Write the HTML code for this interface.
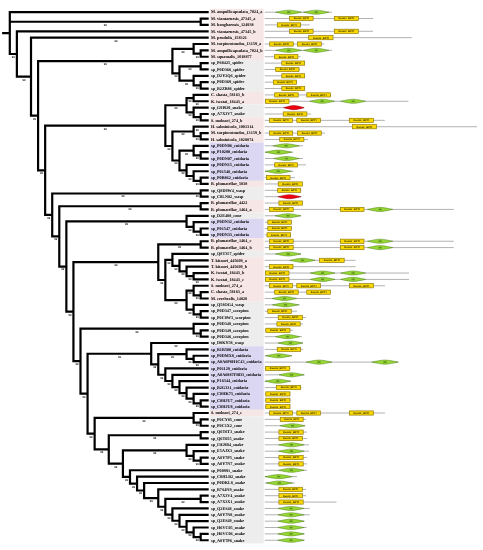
<!DOCTYPE html>
<html><head><meta charset="utf-8"><style>
html,body{margin:0;padding:0;background:#fff;width:483px;height:550px;overflow:hidden;}
svg{display:block;will-change:transform;} text{text-rendering:geometricPrecision;}
</style></head><body>
<svg width="483" height="550" viewBox="0 0 483 550">
<rect x="0" y="0" width="483" height="550" fill="#ffffff"/>
<rect x="209.8" y="9.02" width="53.9" height="50.90" fill="#f7e6e6"/>
<rect x="209.8" y="59.92" width="53.9" height="31.81" fill="#ededed"/>
<rect x="209.8" y="91.73" width="53.9" height="12.72" fill="#f7e6e6"/>
<rect x="209.8" y="104.45" width="53.9" height="12.72" fill="#ededed"/>
<rect x="209.8" y="117.17" width="53.9" height="25.45" fill="#f7e6e6"/>
<rect x="209.8" y="142.62" width="53.9" height="38.17" fill="#dbd7f2"/>
<rect x="209.8" y="180.79" width="53.9" height="6.36" fill="#f7e6e6"/>
<rect x="209.8" y="187.15" width="53.9" height="12.72" fill="#ededed"/>
<rect x="209.8" y="199.88" width="53.9" height="12.72" fill="#f7e6e6"/>
<rect x="209.8" y="212.60" width="53.9" height="6.36" fill="#ededed"/>
<rect x="209.8" y="218.96" width="53.9" height="19.09" fill="#dbd7f2"/>
<rect x="209.8" y="238.05" width="53.9" height="12.72" fill="#f7e6e6"/>
<rect x="209.8" y="250.77" width="53.9" height="6.36" fill="#ededed"/>
<rect x="209.8" y="257.14" width="53.9" height="44.53" fill="#f7e6e6"/>
<rect x="209.8" y="301.67" width="53.9" height="44.53" fill="#ededed"/>
<rect x="209.8" y="346.20" width="53.9" height="63.62" fill="#dbd7f2"/>
<rect x="209.8" y="409.82" width="53.9" height="6.36" fill="#f7e6e6"/>
<rect x="209.8" y="416.19" width="53.9" height="127.24" fill="#ededed"/>
<path d="M9.80 12.20L207.60 12.20 M200.69 18.56L207.60 18.56 M200.69 24.92L207.60 24.92 M200.69 18.56L200.69 24.92 M9.80 21.74L200.69 21.74 M16.87 31.29L207.60 31.29 M31.01 37.65L207.60 37.65 M193.62 44.01L207.60 44.01 M200.69 50.37L207.60 50.37 M200.69 56.73L207.60 56.73 M200.69 50.37L200.69 56.73 M193.62 53.55L200.69 53.55 M193.62 44.01L193.62 53.55 M172.41 48.78L193.62 48.78 M200.69 63.10L207.60 63.10 M200.69 69.46L207.60 69.46 M200.69 63.10L200.69 69.46 M179.48 66.28L200.69 66.28 M193.62 75.82L207.60 75.82 M200.69 82.18L207.60 82.18 M200.69 88.54L207.60 88.54 M200.69 82.18L200.69 88.54 M193.62 85.36L200.69 85.36 M193.62 75.82L193.62 85.36 M179.48 80.59L193.62 80.59 M179.48 66.28L179.48 80.59 M172.41 73.43L179.48 73.43 M172.41 48.78L172.41 73.43 M38.08 61.11L172.41 61.11 M193.62 94.91L207.60 94.91 M193.62 101.27L207.60 101.27 M193.62 94.91L193.62 101.27 M186.55 98.09L193.62 98.09 M193.62 107.63L207.60 107.63 M200.69 113.99L207.60 113.99 M200.69 120.35L207.60 120.35 M200.69 113.99L200.69 120.35 M193.62 117.17L200.69 117.17 M193.62 107.63L193.62 117.17 M186.55 112.40L193.62 112.40 M186.55 98.09L186.55 112.40 M165.34 105.24L186.55 105.24 M193.62 126.72L207.60 126.72 M200.69 133.08L207.60 133.08 M200.69 139.44L207.60 139.44 M200.69 133.08L200.69 139.44 M193.62 136.26L200.69 136.26 M193.62 126.72L193.62 136.26 M172.41 131.49L193.62 131.49 M193.62 145.80L207.60 145.80 M200.69 152.16L207.60 152.16 M200.69 158.53L207.60 158.53 M200.69 152.16L200.69 158.53 M193.62 155.34L200.69 155.34 M193.62 145.80L193.62 155.34 M179.48 150.57L193.62 150.57 M186.55 164.89L207.60 164.89 M193.62 171.25L207.60 171.25 M200.69 177.61L207.60 177.61 M200.69 183.97L207.60 183.97 M200.69 177.61L200.69 183.97 M193.62 180.79L200.69 180.79 M193.62 171.25L193.62 180.79 M186.55 176.02L193.62 176.02 M186.55 164.89L186.55 176.02 M179.48 170.45L186.55 170.45 M179.48 150.57L179.48 170.45 M172.41 160.51L179.48 160.51 M172.41 131.49L172.41 160.51 M165.34 146.00L172.41 146.00 M165.34 105.24L165.34 146.00 M45.15 125.62L165.34 125.62 M200.69 190.34L207.60 190.34 M200.69 196.70L207.60 196.70 M200.69 190.34L200.69 196.70 M52.22 193.52L200.69 193.52 M200.69 203.06L207.60 203.06 M200.69 209.42L207.60 209.42 M200.69 203.06L200.69 209.42 M59.29 206.24L200.69 206.24 M186.55 215.78L207.60 215.78 M193.62 222.15L207.60 222.15 M200.69 228.51L207.60 228.51 M200.69 234.87L207.60 234.87 M200.69 228.51L200.69 234.87 M193.62 231.69L200.69 231.69 M193.62 222.15L193.62 231.69 M186.55 226.92L193.62 226.92 M186.55 215.78L186.55 226.92 M66.36 221.35L186.55 221.35 M200.69 241.23L207.60 241.23 M200.69 247.59L207.60 247.59 M200.69 241.23L200.69 247.59 M158.27 244.41L200.69 244.41 M172.41 253.96L207.60 253.96 M179.48 260.32L207.60 260.32 M186.55 266.68L207.60 266.68 M193.62 273.04L207.60 273.04 M193.62 279.40L207.60 279.40 M193.62 273.04L193.62 279.40 M186.55 276.22L193.62 276.22 M186.55 266.68L186.55 276.22 M179.48 271.45L186.55 271.45 M179.48 260.32L179.48 271.45 M172.41 265.88L179.48 265.88 M172.41 253.96L172.41 265.88 M165.34 259.92L172.41 259.92 M193.62 285.77L207.60 285.77 M200.69 292.13L207.60 292.13 M200.69 298.49L207.60 298.49 M200.69 292.13L200.69 298.49 M193.62 295.31L200.69 295.31 M193.62 285.77L193.62 295.31 M186.55 290.54L193.62 290.54 M193.62 304.85L207.60 304.85 M200.69 311.21L207.60 311.21 M200.69 317.58L207.60 317.58 M200.69 311.21L200.69 317.58 M193.62 314.39L200.69 314.39 M193.62 304.85L193.62 314.39 M186.55 309.62L193.62 309.62 M186.55 290.54L186.55 309.62 M165.34 300.08L186.55 300.08 M165.34 259.92L165.34 300.08 M158.27 280.00L165.34 280.00 M158.27 244.41L158.27 280.00 M73.43 262.21L158.27 262.21 M193.62 323.94L207.60 323.94 M200.69 330.30L207.60 330.30 M200.69 336.66L207.60 336.66 M200.69 330.30L200.69 336.66 M193.62 333.48L200.69 333.48 M193.62 323.94L193.62 333.48 M80.50 328.71L193.62 328.71 M151.20 343.02L207.60 343.02 M186.55 349.39L207.60 349.39 M193.62 355.75L207.60 355.75 M193.62 362.11L207.60 362.11 M193.62 355.75L193.62 362.11 M186.55 358.93L193.62 358.93 M186.55 349.39L186.55 358.93 M158.27 354.16L186.55 354.16 M165.34 368.47L207.60 368.47 M172.41 374.83L207.60 374.83 M179.48 381.20L207.60 381.20 M186.55 387.56L207.60 387.56 M193.62 393.92L207.60 393.92 M200.69 400.28L207.60 400.28 M200.69 406.64L207.60 406.64 M200.69 400.28L200.69 406.64 M193.62 403.46L200.69 403.46 M193.62 393.92L193.62 403.46 M186.55 398.69L193.62 398.69 M186.55 387.56L186.55 398.69 M179.48 393.12L186.55 393.12 M179.48 381.20L179.48 393.12 M172.41 387.16L179.48 387.16 M172.41 374.83L172.41 387.16 M165.34 381.00L172.41 381.00 M165.34 368.47L165.34 381.00 M158.27 374.73L165.34 374.73 M158.27 354.16L158.27 374.73 M151.20 364.45L158.27 364.45 M151.20 343.02L151.20 364.45 M87.57 353.74L151.20 353.74 M193.62 413.01L207.60 413.01 M200.69 419.37L207.60 419.37 M200.69 425.73L207.60 425.73 M200.69 419.37L200.69 425.73 M193.62 422.55L200.69 422.55 M193.62 413.01L193.62 422.55 M94.64 417.78L193.62 417.78 M200.69 432.09L207.60 432.09 M200.69 438.45L207.60 438.45 M200.69 432.09L200.69 438.45 M108.78 435.27L200.69 435.27 M186.55 444.82L207.60 444.82 M193.62 451.18L207.60 451.18 M200.69 457.54L207.60 457.54 M200.69 463.90L207.60 463.90 M200.69 457.54L200.69 463.90 M193.62 460.72L200.69 460.72 M193.62 451.18L193.62 460.72 M186.55 455.95L193.62 455.95 M186.55 444.82L186.55 455.95 M122.92 450.38L186.55 450.38 M129.99 470.26L207.60 470.26 M137.06 476.63L207.60 476.63 M144.13 482.99L207.60 482.99 M158.27 489.35L207.60 489.35 M200.69 495.71L207.60 495.71 M200.69 502.07L207.60 502.07 M200.69 495.71L200.69 502.07 M165.34 498.89L200.69 498.89 M172.41 508.44L207.60 508.44 M179.48 514.80L207.60 514.80 M186.55 521.16L207.60 521.16 M193.62 527.52L207.60 527.52 M200.69 533.88L207.60 533.88 M200.69 540.25L207.60 540.25 M200.69 533.88L200.69 540.25 M193.62 537.07L200.69 537.07 M193.62 527.52L193.62 537.07 M186.55 532.29L193.62 532.29 M186.55 521.16L186.55 532.29 M179.48 526.73L186.55 526.73 M179.48 514.80L179.48 526.73 M172.41 520.76L179.48 520.76 M172.41 508.44L172.41 520.76 M165.34 514.60L172.41 514.60 M165.34 498.89L165.34 514.60 M158.27 506.75L165.34 506.75 M158.27 489.35L158.27 506.75 M144.13 498.05L158.27 498.05 M144.13 482.99L144.13 498.05 M137.06 490.52L144.13 490.52 M137.06 476.63L137.06 490.52 M129.99 483.57L137.06 483.57 M129.99 470.26L129.99 483.57 M122.92 476.92L129.99 476.92 M122.92 450.38L122.92 476.92 M108.78 463.65L122.92 463.65 M108.78 435.27L108.78 463.65 M94.64 449.46L108.78 449.46 M94.64 417.78L94.64 449.46 M87.57 433.62L94.64 433.62 M87.57 353.74L87.57 433.62 M80.50 393.68L87.57 393.68 M80.50 328.71L80.50 393.68 M73.43 361.19L80.50 361.19 M73.43 262.21L73.43 361.19 M66.36 311.70L73.43 311.70 M66.36 221.35L66.36 311.70 M59.29 266.53L66.36 266.53 M59.29 206.24L59.29 266.53 M52.22 236.38L59.29 236.38 M52.22 193.52L52.22 236.38 M45.15 214.95L52.22 214.95 M45.15 125.62L45.15 214.95 M38.08 170.29L45.15 170.29 M38.08 61.11L38.08 170.29 M31.01 115.70L38.08 115.70 M31.01 37.65L31.01 115.70 M16.87 76.67L31.01 76.67 M16.87 31.29L16.87 76.67 M9.80 53.98L16.87 53.98 M9.80 12.20L9.80 53.98 M3.20 33.09L9.80 33.09" stroke="#000" stroke-width="2.2" stroke-linecap="square" fill="none"/>
<g fill="#111" font-family="Liberation Sans" font-size="2.7" font-weight="bold" text-anchor="middle">
<text x="105.2" y="25.6">99</text>
<text x="197.2" y="57.5">99</text>
<text x="183.0" y="52.7">99</text>
<text x="190.1" y="70.2">99</text>
<text x="197.2" y="89.3">99</text>
<text x="186.6" y="84.5">99</text>
<text x="175.9" y="77.3">99</text>
<text x="105.2" y="65.0">99</text>
<text x="190.1" y="102.0">99</text>
<text x="197.2" y="121.1">99</text>
<text x="190.1" y="116.3">99</text>
<text x="175.9" y="109.1">99</text>
<text x="197.2" y="140.2">99</text>
<text x="183.0" y="135.4">99</text>
<text x="197.2" y="159.2">99</text>
<text x="186.6" y="154.5">99</text>
<text x="197.2" y="184.7">99</text>
<text x="190.1" y="179.9">99</text>
<text x="183.0" y="174.4">99</text>
<text x="175.9" y="164.4">99</text>
<text x="168.9" y="149.9">99</text>
<text x="105.2" y="129.5">99</text>
<text x="130.0" y="210.1">99</text>
<text x="197.2" y="235.6">99</text>
<text x="190.1" y="230.8">99</text>
<text x="126.5" y="225.3">99</text>
<text x="179.5" y="248.3">99</text>
<text x="190.1" y="280.1">99</text>
<text x="183.0" y="275.4">99</text>
<text x="175.9" y="269.8">99</text>
<text x="168.9" y="263.8">99</text>
<text x="197.2" y="299.2">99</text>
<text x="190.1" y="294.4">99</text>
<text x="197.2" y="318.3">99</text>
<text x="190.1" y="313.5">99</text>
<text x="175.9" y="304.0">99</text>
<text x="161.8" y="283.9">99</text>
<text x="115.9" y="266.1">99</text>
<text x="197.2" y="337.4">99</text>
<text x="137.1" y="332.6">99</text>
<text x="190.1" y="362.8">99</text>
<text x="172.4" y="358.1">99</text>
<text x="197.2" y="407.4">99</text>
<text x="190.1" y="402.6">99</text>
<text x="183.0" y="397.0">99</text>
<text x="175.9" y="391.1">99</text>
<text x="168.9" y="384.9">99</text>
<text x="161.8" y="378.6">99</text>
<text x="154.7" y="368.3">99</text>
<text x="119.4" y="357.6">99</text>
<text x="197.2" y="426.4">99</text>
<text x="144.1" y="421.7">99</text>
<text x="154.7" y="439.2">99</text>
<text x="197.2" y="464.6">99</text>
<text x="190.1" y="459.8">99</text>
<text x="154.7" y="454.3">99</text>
<text x="183.0" y="502.8">99</text>
<text x="197.2" y="541.0">99</text>
<text x="190.1" y="536.2">99</text>
<text x="183.0" y="530.6">99</text>
<text x="175.9" y="524.7">99</text>
<text x="168.9" y="518.5">99</text>
<text x="161.8" y="510.6">99</text>
<text x="151.2" y="501.9">99</text>
<text x="140.6" y="494.4">99</text>
<text x="133.5" y="487.5">99</text>
<text x="126.5" y="480.8">99</text>
<text x="115.8" y="467.6">99</text>
<text x="101.7" y="453.4">99</text>
<text x="91.1" y="437.5">99</text>
<text x="84.0" y="397.6">99</text>
<text x="77.0" y="365.1">99</text>
<text x="69.9" y="315.6">99</text>
<text x="62.8" y="270.4">99</text>
<text x="55.8" y="240.3">99</text>
<text x="48.7" y="218.9">99</text>
<text x="41.6" y="174.2">99</text>
<text x="34.5" y="119.6">99</text>
<text x="23.9" y="80.6">99</text>
<text x="13.3" y="57.9">99</text>
<text x="115.9" y="41.5">99</text>
<text x="197.2" y="105.2">99</text>
<text x="197.2" y="130.6">99</text>
<text x="197.2" y="283.3">99</text>
<text x="175.9" y="346.9">99</text>
<text x="197.2" y="366.0">99</text>
<text x="122.9" y="197.4">99</text>
<text x="197.2" y="197.4">99</text>
</g>
<g fill="#000" font-family="Liberation Serif" font-size="4.2" font-weight="bold">
<text x="211" y="13.45">M. ampullicapsulata_7024_a</text>
<text x="211" y="19.81">M. viantaenesis_47345_a</text>
<text x="211" y="26.17">M. hongbaensis_124938</text>
<text x="211" y="32.54">M. viantaenesis_47345_b</text>
<text x="211" y="38.90">M. pendulis_158321</text>
<text x="211" y="45.26">M. turpiorotundus_13159_a</text>
<text x="211" y="51.62">M. ampullicapsulata_7024_b</text>
<text x="211" y="57.98">M. squamalis_1018877</text>
<text x="211" y="64.35">sp_P68425_spider</text>
<text x="211" y="70.71">sp_P0D366_spider</text>
<text x="211" y="77.07">sp_D2Y2Q6_spider</text>
<text x="211" y="83.43">sp_P0D369_spider</text>
<text x="211" y="89.79">sp_B2ZB88_spider</text>
<text x="211" y="96.16">C. shasta_58163_b</text>
<text x="211" y="102.52">K. iwatai_18443_a</text>
<text x="211" y="108.88">sp_G9I929_snake</text>
<text x="211" y="115.24">sp_A7X3V7_snake</text>
<text x="211" y="121.60">S. molnari_274_b</text>
<text x="211" y="127.97">H. salminicola_1001314</text>
<text x="211" y="134.33">M. turpiorotundus_13159_b</text>
<text x="211" y="140.69">H. salminicola_1028874</text>
<text x="211" y="147.05">sp_P0DN06_cnidaria</text>
<text x="211" y="153.41">sp_P10280_cnidaria</text>
<text x="211" y="159.78">sp_P0DN07_cnidaria</text>
<text x="211" y="166.14">sp_P0DN15_cnidaria</text>
<text x="211" y="172.50">sp_P01548_cnidaria</text>
<text x="211" y="178.86">sp_P0B862_cnidaria</text>
<text x="211" y="185.22">B. plumatellae_5838</text>
<text x="211" y="191.59">sp_Q8D9W4_wasp</text>
<text x="211" y="197.95">sp_C0LN82_wasp</text>
<text x="211" y="204.31">B. plumatellae_4422</text>
<text x="211" y="210.67">B. plumatellae_1464_a</text>
<text x="211" y="217.03">sp_D2E488_cone</text>
<text x="211" y="223.40">sp_P0DN32_cnidaria</text>
<text x="211" y="229.76">sp_P01547_cnidaria</text>
<text x="211" y="236.12">sp_P0DN33_cnidaria</text>
<text x="211" y="242.48">B. plumatellae_1464_c</text>
<text x="211" y="248.84">B. plumatellae_1464_b</text>
<text x="211" y="255.21">sp_Q8T357_spider</text>
<text x="211" y="261.57">T. kitauei_445609_a</text>
<text x="211" y="267.93">T. kitauei_445609_b</text>
<text x="211" y="274.29">K. iwatai_18443_b</text>
<text x="211" y="280.65">K. iwatai_18443_c</text>
<text x="211" y="287.02">S. molnari_274_a</text>
<text x="211" y="293.38">C. shasta_58163_a</text>
<text x="211" y="299.74">M. cerebralis_14828</text>
<text x="211" y="306.10">sp_Q58OG4_wasp</text>
<text x="211" y="312.46">sp_P0D347_scorpion</text>
<text x="211" y="318.83">sp_P0C8W3_scorpion</text>
<text x="211" y="325.19">sp_P0D348_scorpion</text>
<text x="211" y="331.55">sp_P0D349_scorpion</text>
<text x="211" y="337.91">sp_P0D346_scorpion</text>
<text x="211" y="344.27">sp_D8KY58_wasp</text>
<text x="211" y="350.64">sp_B1B500_cnidaria</text>
<text x="211" y="357.00">sp_P0DMX8_cnidaria</text>
<text x="211" y="363.36">sp_A0A6P8H1C43_cnidaria</text>
<text x="211" y="369.72">sp_P01129_cnidaria</text>
<text x="211" y="376.08">sp_A0A6887FBD3_cnidaria</text>
<text x="211" y="382.45">sp_P16344_cnidaria</text>
<text x="211" y="388.81">sp_B2G331_cnidaria</text>
<text x="211" y="395.17">sp_C0HK73_cnidaria</text>
<text x="211" y="401.53">sp_C0HJU7_cnidaria</text>
<text x="211" y="407.89">sp_C0HJU8_cnidaria</text>
<text x="211" y="414.26">S. molnari_274_c</text>
<text x="211" y="420.62">sp_P0CY85_cone</text>
<text x="211" y="426.98">sp_P0C1X2_cone</text>
<text x="211" y="433.34">sp_Q6T6T3_snake</text>
<text x="211" y="439.70">sp_Q6T655_snake</text>
<text x="211" y="446.07">sp_I3G9B4_snake</text>
<text x="211" y="452.43">sp_E5AJX3_snake</text>
<text x="211" y="458.79">sp_A8Y7P5_snake</text>
<text x="211" y="465.15">sp_A8Y7N7_snake</text>
<text x="211" y="471.51">sp_P00991_snake</text>
<text x="211" y="477.88">sp_C0HLB2_snake</text>
<text x="211" y="484.24">sp_P0DKL8_snake</text>
<text x="211" y="490.60">sp_B7S4N9_snake</text>
<text x="211" y="496.96">sp_A7X3V4_snake</text>
<text x="211" y="503.32">sp_A7X3X1_snake</text>
<text x="211" y="509.69">sp_Q2ES48_snake</text>
<text x="211" y="516.05">sp_A8Y7N8_snake</text>
<text x="211" y="522.41">sp_Q2ES49_snake</text>
<text x="211" y="528.77">sp_H6VC05_snake</text>
<text x="211" y="535.13">sp_H6VC06_snake</text>
<text x="211" y="541.50">sp_A8Y7P6_snake</text>
</g>
<path d="M264.8 12.20H332 M264.8 18.56H373 M264.8 24.92H309.7 M264.8 31.29H373 M264.8 37.65H411.8 M264.8 44.01H324.5 M264.8 50.37H332 M264.8 56.73H300.6 M264.8 63.10H305 M264.8 69.46H300 M264.8 75.82H305 M264.8 82.18H297 M264.8 88.54H305 M264.8 94.91H331 M264.8 101.27H408.4 M264.8 107.63H304 M264.8 113.99H311 M264.8 120.35H384.8 M264.8 126.72H477 M264.8 133.08H325 M264.8 139.44H308 M264.8 145.80H303 M264.8 152.16H293.5 M264.8 158.53H303 M264.8 164.89H306 M264.8 171.25H293.5 M264.8 177.61H294.8 M264.8 183.97H303 M264.8 190.34H301.5 M264.8 196.70H301.5 M264.8 203.06H303 M264.8 209.42H453.7 M264.8 215.78H301 M264.8 222.15H292 M264.8 228.51H292 M264.8 234.87H291 M264.8 241.23H453.7 M264.8 247.59H453.7 M264.8 253.96H301 M264.8 260.32H355.6 M264.8 266.68H355.6 M264.8 273.04H409 M264.8 279.40H409 M264.8 285.77H385 M264.8 292.13H331 M264.8 298.49H330.3 M264.8 304.85H300 M264.8 311.21H297 M264.8 317.58H306 M264.8 323.94H303 M264.8 330.30H293 M264.8 336.66H302 M264.8 343.02H303 M264.8 349.39H303 M264.8 355.75H292 M264.8 362.11H398.3 M264.8 368.47H290.5 M264.8 374.83H304.5 M264.8 381.20H291 M264.8 387.56H301.5 M264.8 393.92H290.5 M264.8 400.28H290.5 M264.8 406.64H290.5 M264.8 413.01H385 M264.8 419.37H306 M264.8 425.73H304.8 M264.8 432.09H307 M264.8 438.45H307 M264.8 444.82H309 M264.8 451.18H309 M264.8 457.54H307 M264.8 463.90H307 M264.8 470.26H307 M264.8 476.63H297 M264.8 482.99H295 M264.8 489.35H306 M264.8 495.71H306 M264.8 502.07H336.5 M264.8 508.44H309.7 M264.8 514.80H309.7 M264.8 521.16H304.5 M264.8 527.52H306.7 M264.8 533.88H304.5 M264.8 540.25H304.5" stroke="#b2b2b2" stroke-width="1.0" fill="none"/>
<path d="M275.70 12.20Q285.06 10.15 287.66 10.15L289.74 10.15Q292.34 10.15 301.70 12.20Q292.34 14.25 289.74 14.25L287.66 14.25Q285.06 14.25 275.70 12.20Z" fill="#96d733" stroke="#467812" stroke-width="0.45"/>
<rect x="287.10" y="11.40" width="3.2" height="1.6" fill="#3d5a10" opacity="0.55"/>
<path d="M303.40 12.20Q312.62 10.15 315.18 10.15L317.22 10.15Q319.78 10.15 329.00 12.20Q319.78 14.25 317.22 14.25L315.18 14.25Q312.62 14.25 303.40 12.20Z" fill="#96d733" stroke="#467812" stroke-width="0.45"/>
<rect x="314.60" y="11.40" width="3.2" height="1.6" fill="#3d5a10" opacity="0.55"/>
<rect x="289.6" y="16.46" width="23.5" height="4.2" fill="#f8d800" stroke="#8a7400" stroke-width="0.65"/>
<text x="301.4" y="19.46" font-family="Liberation Sans" font-size="2.5" font-weight="bold" text-anchor="middle" fill="#2a2200" textLength="15.4" lengthAdjust="spacingAndGlyphs">Kunitz_BPTI</text>
<rect x="334.3" y="16.46" width="24.0" height="4.2" fill="#f8d800" stroke="#8a7400" stroke-width="0.65"/>
<text x="346.3" y="19.46" font-family="Liberation Sans" font-size="2.5" font-weight="bold" text-anchor="middle" fill="#2a2200" textLength="15.7" lengthAdjust="spacingAndGlyphs">Kunitz_BPTI</text>
<rect x="277.3" y="22.82" width="23.4" height="4.2" fill="#f8d800" stroke="#8a7400" stroke-width="0.65"/>
<text x="289.0" y="25.82" font-family="Liberation Sans" font-size="2.5" font-weight="bold" text-anchor="middle" fill="#2a2200" textLength="15.4" lengthAdjust="spacingAndGlyphs">Kunitz_BPTI</text>
<rect x="289.6" y="29.19" width="23.5" height="4.2" fill="#f8d800" stroke="#8a7400" stroke-width="0.65"/>
<text x="301.4" y="32.19" font-family="Liberation Sans" font-size="2.5" font-weight="bold" text-anchor="middle" fill="#2a2200" textLength="15.4" lengthAdjust="spacingAndGlyphs">Kunitz_BPTI</text>
<rect x="334.3" y="29.19" width="24.0" height="4.2" fill="#f8d800" stroke="#8a7400" stroke-width="0.65"/>
<text x="346.3" y="32.19" font-family="Liberation Sans" font-size="2.5" font-weight="bold" text-anchor="middle" fill="#2a2200" textLength="15.7" lengthAdjust="spacingAndGlyphs">Kunitz_BPTI</text>
<rect x="308.7" y="35.55" width="24.3" height="4.2" fill="#f8d800" stroke="#8a7400" stroke-width="0.65"/>
<text x="320.9" y="38.55" font-family="Liberation Sans" font-size="2.5" font-weight="bold" text-anchor="middle" fill="#2a2200" textLength="15.9" lengthAdjust="spacingAndGlyphs">Kunitz_BPTI</text>
<rect x="269.7" y="41.91" width="23.5" height="4.2" fill="#f8d800" stroke="#8a7400" stroke-width="0.65"/>
<text x="281.4" y="44.91" font-family="Liberation Sans" font-size="2.5" font-weight="bold" text-anchor="middle" fill="#2a2200" textLength="15.4" lengthAdjust="spacingAndGlyphs">Kunitz_BPTI</text>
<rect x="297.6" y="41.91" width="23.7" height="4.2" fill="#f8d800" stroke="#8a7400" stroke-width="0.65"/>
<text x="309.5" y="44.91" font-family="Liberation Sans" font-size="2.5" font-weight="bold" text-anchor="middle" fill="#2a2200" textLength="15.6" lengthAdjust="spacingAndGlyphs">Kunitz_BPTI</text>
<path d="M275.70 50.37Q285.06 48.32 287.66 48.32L289.74 48.32Q292.34 48.32 301.70 50.37Q292.34 52.42 289.74 52.42L287.66 52.42Q285.06 52.42 275.70 50.37Z" fill="#96d733" stroke="#467812" stroke-width="0.45"/>
<rect x="287.10" y="49.57" width="3.2" height="1.6" fill="#3d5a10" opacity="0.55"/>
<path d="M303.40 50.37Q312.62 48.32 315.18 48.32L317.22 48.32Q319.78 48.32 329.00 50.37Q319.78 52.42 317.22 52.42L315.18 52.42Q312.62 52.42 303.40 50.37Z" fill="#96d733" stroke="#467812" stroke-width="0.45"/>
<rect x="314.60" y="49.57" width="3.2" height="1.6" fill="#3d5a10" opacity="0.55"/>
<rect x="274.7" y="54.63" width="23.2" height="4.2" fill="#f8d800" stroke="#8a7400" stroke-width="0.65"/>
<text x="286.3" y="57.63" font-family="Liberation Sans" font-size="2.5" font-weight="bold" text-anchor="middle" fill="#2a2200" textLength="15.2" lengthAdjust="spacingAndGlyphs">Kunitz_BPTI</text>
<rect x="281.8" y="61.00" width="22.9" height="4.2" fill="#f8d800" stroke="#8a7400" stroke-width="0.65"/>
<text x="293.2" y="64.00" font-family="Liberation Sans" font-size="2.5" font-weight="bold" text-anchor="middle" fill="#2a2200" textLength="15.0" lengthAdjust="spacingAndGlyphs">Kunitz_BPTI</text>
<rect x="275.7" y="67.36" width="23.3" height="4.2" fill="#f8d800" stroke="#8a7400" stroke-width="0.65"/>
<text x="287.4" y="70.36" font-family="Liberation Sans" font-size="2.5" font-weight="bold" text-anchor="middle" fill="#2a2200" textLength="15.3" lengthAdjust="spacingAndGlyphs">Kunitz_BPTI</text>
<rect x="281.8" y="73.72" width="22.9" height="4.2" fill="#f8d800" stroke="#8a7400" stroke-width="0.65"/>
<text x="293.2" y="76.72" font-family="Liberation Sans" font-size="2.5" font-weight="bold" text-anchor="middle" fill="#2a2200" textLength="15.0" lengthAdjust="spacingAndGlyphs">Kunitz_BPTI</text>
<rect x="273.3" y="80.08" width="23.2" height="4.2" fill="#f8d800" stroke="#8a7400" stroke-width="0.65"/>
<text x="284.9" y="83.08" font-family="Liberation Sans" font-size="2.5" font-weight="bold" text-anchor="middle" fill="#2a2200" textLength="15.2" lengthAdjust="spacingAndGlyphs">Kunitz_BPTI</text>
<rect x="281.8" y="86.44" width="22.9" height="4.2" fill="#f8d800" stroke="#8a7400" stroke-width="0.65"/>
<text x="293.2" y="89.44" font-family="Liberation Sans" font-size="2.5" font-weight="bold" text-anchor="middle" fill="#2a2200" textLength="15.0" lengthAdjust="spacingAndGlyphs">Kunitz_BPTI</text>
<rect x="274.7" y="92.81" width="23.5" height="4.2" fill="#f8d800" stroke="#8a7400" stroke-width="0.65"/>
<text x="286.4" y="95.81" font-family="Liberation Sans" font-size="2.5" font-weight="bold" text-anchor="middle" fill="#2a2200" textLength="15.4" lengthAdjust="spacingAndGlyphs">Kunitz_BPTI</text>
<rect x="306.8" y="92.81" width="23.7" height="4.2" fill="#f8d800" stroke="#8a7400" stroke-width="0.65"/>
<text x="318.6" y="95.81" font-family="Liberation Sans" font-size="2.5" font-weight="bold" text-anchor="middle" fill="#2a2200" textLength="15.6" lengthAdjust="spacingAndGlyphs">Kunitz_BPTI</text>
<rect x="265.3" y="99.17" width="23.7" height="4.2" fill="#f8d800" stroke="#8a7400" stroke-width="0.65"/>
<text x="277.1" y="102.17" font-family="Liberation Sans" font-size="2.5" font-weight="bold" text-anchor="middle" fill="#2a2200" textLength="15.6" lengthAdjust="spacingAndGlyphs">Kunitz_BPTI</text>
<path d="M309.70 101.27Q318.63 99.22 321.11 99.22L323.09 99.22Q325.57 99.22 334.50 101.27Q325.57 103.32 323.09 103.32L321.11 103.32Q318.63 103.32 309.70 101.27Z" fill="#96d733" stroke="#467812" stroke-width="0.45"/>
<rect x="320.50" y="100.47" width="3.2" height="1.6" fill="#3d5a10" opacity="0.55"/>
<path d="M340.70 101.27Q349.66 99.22 352.15 99.22L354.15 99.22Q356.64 99.22 365.60 101.27Q356.64 103.32 354.15 103.32L352.15 103.32Q349.66 103.32 340.70 101.27Z" fill="#96d733" stroke="#467812" stroke-width="0.45"/>
<rect x="351.55" y="100.47" width="3.2" height="1.6" fill="#3d5a10" opacity="0.55"/>
<path d="M283.60 107.63Q291.02 105.58 293.08 105.58L294.72 105.58Q296.78 105.58 304.20 107.63Q296.78 109.68 294.72 109.68L293.08 109.68Q291.02 109.68 283.60 107.63Z" fill="#ee0010" stroke="#8a0000" stroke-width="0.45"/>
<rect x="283.2" y="111.89" width="23.7" height="4.2" fill="#f8d800" stroke="#8a7400" stroke-width="0.65"/>
<text x="295.0" y="114.89" font-family="Liberation Sans" font-size="2.5" font-weight="bold" text-anchor="middle" fill="#2a2200" textLength="15.6" lengthAdjust="spacingAndGlyphs">Kunitz_BPTI</text>
<rect x="269.5" y="118.25" width="23.0" height="4.2" fill="#f8d800" stroke="#8a7400" stroke-width="0.65"/>
<text x="281.0" y="121.25" font-family="Liberation Sans" font-size="2.5" font-weight="bold" text-anchor="middle" fill="#2a2200" textLength="15.1" lengthAdjust="spacingAndGlyphs">Kunitz_BPTI</text>
<rect x="296.8" y="118.25" width="23.8" height="4.2" fill="#f8d800" stroke="#8a7400" stroke-width="0.65"/>
<text x="308.7" y="121.25" font-family="Liberation Sans" font-size="2.5" font-weight="bold" text-anchor="middle" fill="#2a2200" textLength="15.6" lengthAdjust="spacingAndGlyphs">Kunitz_BPTI</text>
<rect x="349.3" y="118.25" width="24.2" height="4.2" fill="#f8d800" stroke="#8a7400" stroke-width="0.65"/>
<text x="361.4" y="121.25" font-family="Liberation Sans" font-size="2.5" font-weight="bold" text-anchor="middle" fill="#2a2200" textLength="15.9" lengthAdjust="spacingAndGlyphs">Kunitz_BPTI</text>
<rect x="352.3" y="124.62" width="24.2" height="4.2" fill="#f8d800" stroke="#8a7400" stroke-width="0.65"/>
<text x="364.4" y="127.62" font-family="Liberation Sans" font-size="2.5" font-weight="bold" text-anchor="middle" fill="#2a2200" textLength="15.9" lengthAdjust="spacingAndGlyphs">Kunitz_BPTI</text>
<rect x="269.5" y="130.98" width="23.2" height="4.2" fill="#f8d800" stroke="#8a7400" stroke-width="0.65"/>
<text x="281.1" y="133.98" font-family="Liberation Sans" font-size="2.5" font-weight="bold" text-anchor="middle" fill="#2a2200" textLength="15.2" lengthAdjust="spacingAndGlyphs">Kunitz_BPTI</text>
<rect x="297.6" y="130.98" width="23.7" height="4.2" fill="#f8d800" stroke="#8a7400" stroke-width="0.65"/>
<text x="309.5" y="133.98" font-family="Liberation Sans" font-size="2.5" font-weight="bold" text-anchor="middle" fill="#2a2200" textLength="15.6" lengthAdjust="spacingAndGlyphs">Kunitz_BPTI</text>
<rect x="279.7" y="137.34" width="24.2" height="4.2" fill="#f8d800" stroke="#8a7400" stroke-width="0.65"/>
<text x="291.8" y="140.34" font-family="Liberation Sans" font-size="2.5" font-weight="bold" text-anchor="middle" fill="#2a2200" textLength="15.9" lengthAdjust="spacingAndGlyphs">Kunitz_BPTI</text>
<path d="M273.00 145.80Q282.47 143.75 285.10 143.75L287.20 143.75Q289.83 143.75 299.30 145.80Q289.83 147.85 287.20 147.85L285.10 147.85Q282.47 147.85 273.00 145.80Z" fill="#96d733" stroke="#467812" stroke-width="0.45"/>
<rect x="284.55" y="145.00" width="3.2" height="1.6" fill="#3d5a10" opacity="0.55"/>
<path d="M265.20 152.16Q274.74 150.11 277.39 150.11L279.51 150.11Q282.16 150.11 291.70 152.16Q282.16 154.21 279.51 154.21L277.39 154.21Q274.74 154.21 265.20 152.16Z" fill="#96d733" stroke="#467812" stroke-width="0.45"/>
<rect x="276.85" y="151.36" width="3.2" height="1.6" fill="#3d5a10" opacity="0.55"/>
<path d="M273.70 158.53Q282.92 156.48 285.48 156.48L287.52 156.48Q290.08 156.48 299.30 158.53Q290.08 160.58 287.52 160.58L285.48 160.58Q282.92 160.58 273.70 158.53Z" fill="#96d733" stroke="#467812" stroke-width="0.45"/>
<rect x="284.90" y="157.73" width="3.2" height="1.6" fill="#3d5a10" opacity="0.55"/>
<rect x="274.7" y="162.79" width="22.8" height="4.2" fill="#f8d800" stroke="#8a7400" stroke-width="0.65"/>
<text x="286.1" y="165.79" font-family="Liberation Sans" font-size="2.5" font-weight="bold" text-anchor="middle" fill="#2a2200" textLength="15.0" lengthAdjust="spacingAndGlyphs">Kunitz_BPTI</text>
<path d="M265.20 171.25Q274.60 169.20 277.21 169.20L279.29 169.20Q281.90 169.20 291.30 171.25Q281.90 173.30 279.29 173.30L277.21 173.30Q274.60 173.30 265.20 171.25Z" fill="#96d733" stroke="#467812" stroke-width="0.45"/>
<rect x="276.65" y="170.45" width="3.2" height="1.6" fill="#3d5a10" opacity="0.55"/>
<rect x="266.5" y="175.51" width="23.5" height="4.2" fill="#f8d800" stroke="#8a7400" stroke-width="0.65"/>
<text x="278.2" y="178.51" font-family="Liberation Sans" font-size="2.5" font-weight="bold" text-anchor="middle" fill="#2a2200" textLength="15.4" lengthAdjust="spacingAndGlyphs">Kunitz_BPTI</text>
<rect x="278.2" y="181.87" width="24.2" height="4.2" fill="#f8d800" stroke="#8a7400" stroke-width="0.65"/>
<text x="290.3" y="184.87" font-family="Liberation Sans" font-size="2.5" font-weight="bold" text-anchor="middle" fill="#2a2200" textLength="15.9" lengthAdjust="spacingAndGlyphs">Kunitz_BPTI</text>
<rect x="277.7" y="188.24" width="23.0" height="4.2" fill="#f8d800" stroke="#8a7400" stroke-width="0.65"/>
<text x="289.2" y="191.24" font-family="Liberation Sans" font-size="2.5" font-weight="bold" text-anchor="middle" fill="#2a2200" textLength="15.1" lengthAdjust="spacingAndGlyphs">Kunitz_BPTI</text>
<path d="M277.90 196.70Q286.22 194.65 288.53 194.65L290.37 194.65Q292.68 194.65 301.00 196.70Q292.68 198.75 290.37 198.75L288.53 198.75Q286.22 198.75 277.90 196.70Z" fill="#ee0010" stroke="#8a0000" stroke-width="0.45"/>
<rect x="278.9" y="200.96" width="23.5" height="4.2" fill="#f8d800" stroke="#8a7400" stroke-width="0.65"/>
<text x="290.6" y="203.96" font-family="Liberation Sans" font-size="2.5" font-weight="bold" text-anchor="middle" fill="#2a2200" textLength="15.4" lengthAdjust="spacingAndGlyphs">Kunitz_BPTI</text>
<rect x="269.5" y="207.32" width="23.7" height="4.2" fill="#f8d800" stroke="#8a7400" stroke-width="0.65"/>
<text x="281.4" y="210.32" font-family="Liberation Sans" font-size="2.5" font-weight="bold" text-anchor="middle" fill="#2a2200" textLength="15.6" lengthAdjust="spacingAndGlyphs">Kunitz_BPTI</text>
<rect x="340.3" y="207.32" width="23.7" height="4.2" fill="#f8d800" stroke="#8a7400" stroke-width="0.65"/>
<text x="352.1" y="210.32" font-family="Liberation Sans" font-size="2.5" font-weight="bold" text-anchor="middle" fill="#2a2200" textLength="15.6" lengthAdjust="spacingAndGlyphs">Kunitz_BPTI</text>
<path d="M367.50 209.42Q376.61 207.37 379.14 207.37L381.16 207.37Q383.69 207.37 392.80 209.42Q383.69 211.47 381.16 211.47L379.14 211.47Q376.61 211.47 367.50 209.42Z" fill="#96d733" stroke="#467812" stroke-width="0.45"/>
<rect x="378.55" y="208.62" width="3.2" height="1.6" fill="#3d5a10" opacity="0.55"/>
<path d="M275.00 215.78Q284.36 213.73 286.96 213.73L289.04 213.73Q291.64 213.73 301.00 215.78Q291.64 217.83 289.04 217.83L286.96 217.83Q284.36 217.83 275.00 215.78Z" fill="#96d733" stroke="#467812" stroke-width="0.45"/>
<rect x="286.40" y="214.98" width="3.2" height="1.6" fill="#3d5a10" opacity="0.55"/>
<rect x="267.8" y="220.05" width="23.5" height="4.2" fill="#f8d800" stroke="#8a7400" stroke-width="0.65"/>
<text x="279.6" y="223.05" font-family="Liberation Sans" font-size="2.5" font-weight="bold" text-anchor="middle" fill="#2a2200" textLength="15.4" lengthAdjust="spacingAndGlyphs">Kunitz_BPTI</text>
<rect x="267.8" y="226.41" width="23.5" height="4.2" fill="#f8d800" stroke="#8a7400" stroke-width="0.65"/>
<text x="279.6" y="229.41" font-family="Liberation Sans" font-size="2.5" font-weight="bold" text-anchor="middle" fill="#2a2200" textLength="15.4" lengthAdjust="spacingAndGlyphs">Kunitz_BPTI</text>
<rect x="267.0" y="232.77" width="23.7" height="4.2" fill="#f8d800" stroke="#8a7400" stroke-width="0.65"/>
<text x="278.9" y="235.77" font-family="Liberation Sans" font-size="2.5" font-weight="bold" text-anchor="middle" fill="#2a2200" textLength="15.6" lengthAdjust="spacingAndGlyphs">Kunitz_BPTI</text>
<rect x="269.5" y="239.13" width="23.7" height="4.2" fill="#f8d800" stroke="#8a7400" stroke-width="0.65"/>
<text x="281.4" y="242.13" font-family="Liberation Sans" font-size="2.5" font-weight="bold" text-anchor="middle" fill="#2a2200" textLength="15.6" lengthAdjust="spacingAndGlyphs">Kunitz_BPTI</text>
<rect x="340.3" y="239.13" width="23.7" height="4.2" fill="#f8d800" stroke="#8a7400" stroke-width="0.65"/>
<text x="352.1" y="242.13" font-family="Liberation Sans" font-size="2.5" font-weight="bold" text-anchor="middle" fill="#2a2200" textLength="15.6" lengthAdjust="spacingAndGlyphs">Kunitz_BPTI</text>
<path d="M367.50 241.23Q376.61 239.18 379.14 239.18L381.16 239.18Q383.69 239.18 392.80 241.23Q383.69 243.28 381.16 243.28L379.14 243.28Q376.61 243.28 367.50 241.23Z" fill="#96d733" stroke="#467812" stroke-width="0.45"/>
<rect x="378.55" y="240.43" width="3.2" height="1.6" fill="#3d5a10" opacity="0.55"/>
<rect x="269.5" y="245.49" width="23.7" height="4.2" fill="#f8d800" stroke="#8a7400" stroke-width="0.65"/>
<text x="281.4" y="248.49" font-family="Liberation Sans" font-size="2.5" font-weight="bold" text-anchor="middle" fill="#2a2200" textLength="15.6" lengthAdjust="spacingAndGlyphs">Kunitz_BPTI</text>
<rect x="340.3" y="245.49" width="23.7" height="4.2" fill="#f8d800" stroke="#8a7400" stroke-width="0.65"/>
<text x="352.1" y="248.49" font-family="Liberation Sans" font-size="2.5" font-weight="bold" text-anchor="middle" fill="#2a2200" textLength="15.6" lengthAdjust="spacingAndGlyphs">Kunitz_BPTI</text>
<path d="M367.50 247.59Q376.61 245.54 379.14 245.54L381.16 245.54Q383.69 245.54 392.80 247.59Q383.69 249.64 381.16 249.64L379.14 249.64Q376.61 249.64 367.50 247.59Z" fill="#96d733" stroke="#467812" stroke-width="0.45"/>
<rect x="378.55" y="246.79" width="3.2" height="1.6" fill="#3d5a10" opacity="0.55"/>
<path d="M275.40 253.96Q284.62 251.91 287.18 251.91L289.22 251.91Q291.78 251.91 301.00 253.96Q291.78 256.01 289.22 256.01L287.18 256.01Q284.62 256.01 275.40 253.96Z" fill="#96d733" stroke="#467812" stroke-width="0.45"/>
<rect x="286.60" y="253.16" width="3.2" height="1.6" fill="#3d5a10" opacity="0.55"/>
<path d="M289.80 260.32Q298.94 258.27 301.48 258.27L303.52 258.27Q306.06 258.27 315.20 260.32Q306.06 262.37 303.52 262.37L301.48 262.37Q298.94 262.37 289.80 260.32Z" fill="#96d733" stroke="#467812" stroke-width="0.45"/>
<rect x="300.90" y="259.52" width="3.2" height="1.6" fill="#3d5a10" opacity="0.55"/>
<rect x="319.3" y="258.22" width="24.9" height="4.2" fill="#f8d800" stroke="#8a7400" stroke-width="0.65"/>
<text x="331.8" y="261.22" font-family="Liberation Sans" font-size="2.5" font-weight="bold" text-anchor="middle" fill="#2a2200" textLength="16.3" lengthAdjust="spacingAndGlyphs">Kunitz_BPTI</text>
<rect x="269.6" y="264.58" width="23.4" height="4.2" fill="#f8d800" stroke="#8a7400" stroke-width="0.65"/>
<text x="281.3" y="267.58" font-family="Liberation Sans" font-size="2.5" font-weight="bold" text-anchor="middle" fill="#2a2200" textLength="15.4" lengthAdjust="spacingAndGlyphs">Kunitz_BPTI</text>
<rect x="265.3" y="270.94" width="23.7" height="4.2" fill="#f8d800" stroke="#8a7400" stroke-width="0.65"/>
<text x="277.1" y="273.94" font-family="Liberation Sans" font-size="2.5" font-weight="bold" text-anchor="middle" fill="#2a2200" textLength="15.6" lengthAdjust="spacingAndGlyphs">Kunitz_BPTI</text>
<path d="M310.20 273.04Q319.13 270.99 321.61 270.99L323.59 270.99Q326.07 270.99 335.00 273.04Q326.07 275.09 323.59 275.09L321.61 275.09Q319.13 275.09 310.20 273.04Z" fill="#96d733" stroke="#467812" stroke-width="0.45"/>
<rect x="321.00" y="272.24" width="3.2" height="1.6" fill="#3d5a10" opacity="0.55"/>
<path d="M340.70 273.04Q349.66 270.99 352.15 270.99L354.15 270.99Q356.64 270.99 365.60 273.04Q356.64 275.09 354.15 275.09L352.15 275.09Q349.66 275.09 340.70 273.04Z" fill="#96d733" stroke="#467812" stroke-width="0.45"/>
<rect x="351.55" y="272.24" width="3.2" height="1.6" fill="#3d5a10" opacity="0.55"/>
<rect x="265.3" y="277.30" width="23.7" height="4.2" fill="#f8d800" stroke="#8a7400" stroke-width="0.65"/>
<text x="277.1" y="280.30" font-family="Liberation Sans" font-size="2.5" font-weight="bold" text-anchor="middle" fill="#2a2200" textLength="15.6" lengthAdjust="spacingAndGlyphs">Kunitz_BPTI</text>
<path d="M310.20 279.40Q319.13 277.35 321.61 277.35L323.59 277.35Q326.07 277.35 335.00 279.40Q326.07 281.45 323.59 281.45L321.61 281.45Q319.13 281.45 310.20 279.40Z" fill="#96d733" stroke="#467812" stroke-width="0.45"/>
<rect x="321.00" y="278.60" width="3.2" height="1.6" fill="#3d5a10" opacity="0.55"/>
<path d="M340.70 279.40Q349.66 277.35 352.15 277.35L354.15 277.35Q356.64 277.35 365.60 279.40Q356.64 281.45 354.15 281.45L352.15 281.45Q349.66 281.45 340.70 279.40Z" fill="#96d733" stroke="#467812" stroke-width="0.45"/>
<rect x="351.55" y="278.60" width="3.2" height="1.6" fill="#3d5a10" opacity="0.55"/>
<rect x="269.5" y="283.67" width="23.0" height="4.2" fill="#f8d800" stroke="#8a7400" stroke-width="0.65"/>
<text x="281.0" y="286.67" font-family="Liberation Sans" font-size="2.5" font-weight="bold" text-anchor="middle" fill="#2a2200" textLength="15.1" lengthAdjust="spacingAndGlyphs">Kunitz_BPTI</text>
<rect x="296.8" y="283.67" width="23.8" height="4.2" fill="#f8d800" stroke="#8a7400" stroke-width="0.65"/>
<text x="308.7" y="286.67" font-family="Liberation Sans" font-size="2.5" font-weight="bold" text-anchor="middle" fill="#2a2200" textLength="15.6" lengthAdjust="spacingAndGlyphs">Kunitz_BPTI</text>
<rect x="349.3" y="283.67" width="24.2" height="4.2" fill="#f8d800" stroke="#8a7400" stroke-width="0.65"/>
<text x="361.4" y="286.67" font-family="Liberation Sans" font-size="2.5" font-weight="bold" text-anchor="middle" fill="#2a2200" textLength="15.9" lengthAdjust="spacingAndGlyphs">Kunitz_BPTI</text>
<rect x="274.7" y="290.03" width="23.5" height="4.2" fill="#f8d800" stroke="#8a7400" stroke-width="0.65"/>
<text x="286.4" y="293.03" font-family="Liberation Sans" font-size="2.5" font-weight="bold" text-anchor="middle" fill="#2a2200" textLength="15.4" lengthAdjust="spacingAndGlyphs">Kunitz_BPTI</text>
<rect x="306.8" y="290.03" width="23.7" height="4.2" fill="#f8d800" stroke="#8a7400" stroke-width="0.65"/>
<text x="318.6" y="293.03" font-family="Liberation Sans" font-size="2.5" font-weight="bold" text-anchor="middle" fill="#2a2200" textLength="15.6" lengthAdjust="spacingAndGlyphs">Kunitz_BPTI</text>
<path d="M272.00 298.49Q280.93 296.44 283.41 296.44L285.39 296.44Q287.87 296.44 296.80 298.49Q287.87 300.54 285.39 300.54L283.41 300.54Q280.93 300.54 272.00 298.49Z" fill="#96d733" stroke="#467812" stroke-width="0.45"/>
<rect x="282.80" y="297.69" width="3.2" height="1.6" fill="#3d5a10" opacity="0.55"/>
<path d="M272.40 304.85Q281.80 302.80 284.41 302.80L286.49 302.80Q289.10 302.80 298.50 304.85Q289.10 306.90 286.49 306.90L284.41 306.90Q281.80 306.90 272.40 304.85Z" fill="#96d733" stroke="#467812" stroke-width="0.45"/>
<rect x="283.85" y="304.05" width="3.2" height="1.6" fill="#3d5a10" opacity="0.55"/>
<rect x="267.8" y="309.11" width="23.5" height="4.2" fill="#f8d800" stroke="#8a7400" stroke-width="0.65"/>
<text x="279.6" y="312.11" font-family="Liberation Sans" font-size="2.5" font-weight="bold" text-anchor="middle" fill="#2a2200" textLength="15.4" lengthAdjust="spacingAndGlyphs">Kunitz_BPTI</text>
<rect x="278.2" y="315.48" width="24.2" height="4.2" fill="#f8d800" stroke="#8a7400" stroke-width="0.65"/>
<text x="290.3" y="318.48" font-family="Liberation Sans" font-size="2.5" font-weight="bold" text-anchor="middle" fill="#2a2200" textLength="15.9" lengthAdjust="spacingAndGlyphs">Kunitz_BPTI</text>
<rect x="276.9" y="321.84" width="23.3" height="4.2" fill="#f8d800" stroke="#8a7400" stroke-width="0.65"/>
<text x="288.6" y="324.84" font-family="Liberation Sans" font-size="2.5" font-weight="bold" text-anchor="middle" fill="#2a2200" textLength="15.3" lengthAdjust="spacingAndGlyphs">Kunitz_BPTI</text>
<rect x="265.8" y="328.20" width="24.2" height="4.2" fill="#f8d800" stroke="#8a7400" stroke-width="0.65"/>
<text x="277.9" y="331.20" font-family="Liberation Sans" font-size="2.5" font-weight="bold" text-anchor="middle" fill="#2a2200" textLength="15.9" lengthAdjust="spacingAndGlyphs">Kunitz_BPTI</text>
<path d="M275.40 336.66Q284.18 334.61 286.62 334.61L288.58 334.61Q291.02 334.61 299.80 336.66Q291.02 338.71 288.58 338.71L286.62 338.71Q284.18 338.71 275.40 336.66Z" fill="#96d733" stroke="#467812" stroke-width="0.45"/>
<rect x="286.00" y="335.86" width="3.2" height="1.6" fill="#3d5a10" opacity="0.55"/>
<path d="M278.00 343.02Q286.96 340.97 289.45 340.97L291.45 340.97Q293.94 340.97 302.90 343.02Q293.94 345.07 291.45 345.07L289.45 345.07Q286.96 345.07 278.00 343.02Z" fill="#96d733" stroke="#467812" stroke-width="0.45"/>
<rect x="288.85" y="342.22" width="3.2" height="1.6" fill="#3d5a10" opacity="0.55"/>
<rect x="277.2" y="347.29" width="23.5" height="4.2" fill="#f8d800" stroke="#8a7400" stroke-width="0.65"/>
<text x="288.9" y="350.29" font-family="Liberation Sans" font-size="2.5" font-weight="bold" text-anchor="middle" fill="#2a2200" textLength="15.4" lengthAdjust="spacingAndGlyphs">Kunitz_BPTI</text>
<path d="M265.60 355.75Q275.00 353.70 277.61 353.70L279.69 353.70Q282.30 353.70 291.70 355.75Q282.30 357.80 279.69 357.80L277.61 357.80Q275.00 357.80 265.60 355.75Z" fill="#96d733" stroke="#467812" stroke-width="0.45"/>
<rect x="277.05" y="354.95" width="3.2" height="1.6" fill="#3d5a10" opacity="0.55"/>
<path d="M306.00 362.11Q315.36 360.06 317.96 360.06L320.04 360.06Q322.64 360.06 332.00 362.11Q322.64 364.16 320.04 364.16L317.96 364.16Q315.36 364.16 306.00 362.11Z" fill="#96d733" stroke="#467812" stroke-width="0.45"/>
<rect x="317.40" y="361.31" width="3.2" height="1.6" fill="#3d5a10" opacity="0.55"/>
<path d="M371.70 362.11Q381.28 360.06 383.94 360.06L386.06 360.06Q388.72 360.06 398.30 362.11Q388.72 364.16 386.06 364.16L383.94 364.16Q381.28 364.16 371.70 362.11Z" fill="#96d733" stroke="#467812" stroke-width="0.45"/>
<rect x="383.40" y="361.31" width="3.2" height="1.6" fill="#3d5a10" opacity="0.55"/>
<rect x="265.6" y="366.37" width="24.2" height="4.2" fill="#f8d800" stroke="#8a7400" stroke-width="0.65"/>
<text x="277.7" y="369.37" font-family="Liberation Sans" font-size="2.5" font-weight="bold" text-anchor="middle" fill="#2a2200" textLength="15.9" lengthAdjust="spacingAndGlyphs">Kunitz_BPTI</text>
<path d="M278.90 374.83Q287.97 372.78 290.49 372.78L292.51 372.78Q295.03 372.78 304.10 374.83Q295.03 376.88 292.51 376.88L290.49 376.88Q287.97 376.88 278.90 374.83Z" fill="#96d733" stroke="#467812" stroke-width="0.45"/>
<rect x="289.90" y="374.03" width="3.2" height="1.6" fill="#3d5a10" opacity="0.55"/>
<path d="M265.00 381.20Q274.22 379.15 276.78 379.15L278.82 379.15Q281.38 379.15 290.60 381.20Q281.38 383.25 278.82 383.25L276.78 383.25Q274.22 383.25 265.00 381.20Z" fill="#96d733" stroke="#467812" stroke-width="0.45"/>
<rect x="276.20" y="380.40" width="3.2" height="1.6" fill="#3d5a10" opacity="0.55"/>
<rect x="276.4" y="385.46" width="24.3" height="4.2" fill="#f8d800" stroke="#8a7400" stroke-width="0.65"/>
<text x="288.6" y="388.46" font-family="Liberation Sans" font-size="2.5" font-weight="bold" text-anchor="middle" fill="#2a2200" textLength="15.9" lengthAdjust="spacingAndGlyphs">Kunitz_BPTI</text>
<rect x="265.8" y="391.82" width="24.2" height="4.2" fill="#f8d800" stroke="#8a7400" stroke-width="0.65"/>
<text x="277.9" y="394.82" font-family="Liberation Sans" font-size="2.5" font-weight="bold" text-anchor="middle" fill="#2a2200" textLength="15.9" lengthAdjust="spacingAndGlyphs">Kunitz_BPTI</text>
<rect x="265.8" y="398.18" width="24.2" height="4.2" fill="#f8d800" stroke="#8a7400" stroke-width="0.65"/>
<text x="277.9" y="401.18" font-family="Liberation Sans" font-size="2.5" font-weight="bold" text-anchor="middle" fill="#2a2200" textLength="15.9" lengthAdjust="spacingAndGlyphs">Kunitz_BPTI</text>
<rect x="265.8" y="404.54" width="24.2" height="4.2" fill="#f8d800" stroke="#8a7400" stroke-width="0.65"/>
<text x="277.9" y="407.54" font-family="Liberation Sans" font-size="2.5" font-weight="bold" text-anchor="middle" fill="#2a2200" textLength="15.9" lengthAdjust="spacingAndGlyphs">Kunitz_BPTI</text>
<rect x="269.5" y="410.91" width="23.0" height="4.2" fill="#f8d800" stroke="#8a7400" stroke-width="0.65"/>
<text x="281.0" y="413.91" font-family="Liberation Sans" font-size="2.5" font-weight="bold" text-anchor="middle" fill="#2a2200" textLength="15.1" lengthAdjust="spacingAndGlyphs">Kunitz_BPTI</text>
<rect x="296.8" y="410.91" width="23.8" height="4.2" fill="#f8d800" stroke="#8a7400" stroke-width="0.65"/>
<text x="308.7" y="413.91" font-family="Liberation Sans" font-size="2.5" font-weight="bold" text-anchor="middle" fill="#2a2200" textLength="15.6" lengthAdjust="spacingAndGlyphs">Kunitz_BPTI</text>
<rect x="349.3" y="410.91" width="24.2" height="4.2" fill="#f8d800" stroke="#8a7400" stroke-width="0.65"/>
<text x="361.4" y="413.91" font-family="Liberation Sans" font-size="2.5" font-weight="bold" text-anchor="middle" fill="#2a2200" textLength="15.9" lengthAdjust="spacingAndGlyphs">Kunitz_BPTI</text>
<rect x="280.2" y="417.27" width="23.0" height="4.2" fill="#f8d800" stroke="#8a7400" stroke-width="0.65"/>
<text x="291.7" y="420.27" font-family="Liberation Sans" font-size="2.5" font-weight="bold" text-anchor="middle" fill="#2a2200" textLength="15.1" lengthAdjust="spacingAndGlyphs">Kunitz_BPTI</text>
<path d="M279.90 425.73Q289.01 423.68 291.54 423.68L293.56 423.68Q296.09 423.68 305.20 425.73Q296.09 427.78 293.56 427.78L291.54 427.78Q289.01 427.78 279.90 425.73Z" fill="#96d733" stroke="#467812" stroke-width="0.45"/>
<rect x="290.95" y="424.93" width="3.2" height="1.6" fill="#3d5a10" opacity="0.55"/>
<rect x="278.9" y="429.99" width="24.3" height="4.2" fill="#f8d800" stroke="#8a7400" stroke-width="0.65"/>
<text x="291.1" y="432.99" font-family="Liberation Sans" font-size="2.5" font-weight="bold" text-anchor="middle" fill="#2a2200" textLength="15.9" lengthAdjust="spacingAndGlyphs">Kunitz_BPTI</text>
<rect x="278.9" y="436.35" width="23.5" height="4.2" fill="#f8d800" stroke="#8a7400" stroke-width="0.65"/>
<text x="290.6" y="439.35" font-family="Liberation Sans" font-size="2.5" font-weight="bold" text-anchor="middle" fill="#2a2200" textLength="15.4" lengthAdjust="spacingAndGlyphs">Kunitz_BPTI</text>
<path d="M278.60 444.82Q287.82 442.77 290.38 442.77L292.42 442.77Q294.98 442.77 304.20 444.82Q294.98 446.87 292.42 446.87L290.38 446.87Q287.82 446.87 278.60 444.82Z" fill="#96d733" stroke="#467812" stroke-width="0.45"/>
<rect x="289.80" y="444.02" width="3.2" height="1.6" fill="#3d5a10" opacity="0.55"/>
<path d="M278.60 451.18Q287.82 449.13 290.38 449.13L292.42 449.13Q294.98 449.13 304.20 451.18Q294.98 453.23 292.42 453.23L290.38 453.23Q287.82 453.23 278.60 451.18Z" fill="#96d733" stroke="#467812" stroke-width="0.45"/>
<rect x="289.80" y="450.38" width="3.2" height="1.6" fill="#3d5a10" opacity="0.55"/>
<rect x="278.9" y="455.44" width="24.3" height="4.2" fill="#f8d800" stroke="#8a7400" stroke-width="0.65"/>
<text x="291.1" y="458.44" font-family="Liberation Sans" font-size="2.5" font-weight="bold" text-anchor="middle" fill="#2a2200" textLength="15.9" lengthAdjust="spacingAndGlyphs">Kunitz_BPTI</text>
<rect x="278.9" y="461.80" width="24.3" height="4.2" fill="#f8d800" stroke="#8a7400" stroke-width="0.65"/>
<text x="291.1" y="464.80" font-family="Liberation Sans" font-size="2.5" font-weight="bold" text-anchor="middle" fill="#2a2200" textLength="15.9" lengthAdjust="spacingAndGlyphs">Kunitz_BPTI</text>
<path d="M278.60 470.26Q287.82 468.21 290.38 468.21L292.42 468.21Q294.98 468.21 304.20 470.26Q294.98 472.31 292.42 472.31L290.38 472.31Q287.82 472.31 278.60 470.26Z" fill="#96d733" stroke="#467812" stroke-width="0.45"/>
<rect x="289.80" y="469.46" width="3.2" height="1.6" fill="#3d5a10" opacity="0.55"/>
<path d="M265.00 476.63Q274.83 474.58 277.56 474.58L279.74 474.58Q282.47 474.58 292.30 476.63Q282.47 478.68 279.74 478.68L277.56 478.68Q274.83 478.68 265.00 476.63Z" fill="#96d733" stroke="#467812" stroke-width="0.45"/>
<rect x="277.05" y="475.83" width="3.2" height="1.6" fill="#3d5a10" opacity="0.55"/>
<path d="M266.20 482.99Q275.60 480.94 278.21 480.94L280.29 480.94Q282.90 480.94 292.30 482.99Q282.90 485.04 280.29 485.04L278.21 485.04Q275.60 485.04 266.20 482.99Z" fill="#96d733" stroke="#467812" stroke-width="0.45"/>
<rect x="277.65" y="482.19" width="3.2" height="1.6" fill="#3d5a10" opacity="0.55"/>
<rect x="278.9" y="487.25" width="23.5" height="4.2" fill="#f8d800" stroke="#8a7400" stroke-width="0.65"/>
<text x="290.6" y="490.25" font-family="Liberation Sans" font-size="2.5" font-weight="bold" text-anchor="middle" fill="#2a2200" textLength="15.4" lengthAdjust="spacingAndGlyphs">Kunitz_BPTI</text>
<rect x="278.9" y="493.61" width="23.5" height="4.2" fill="#f8d800" stroke="#8a7400" stroke-width="0.65"/>
<text x="290.6" y="496.61" font-family="Liberation Sans" font-size="2.5" font-weight="bold" text-anchor="middle" fill="#2a2200" textLength="15.4" lengthAdjust="spacingAndGlyphs">Kunitz_BPTI</text>
<rect x="278.9" y="499.97" width="24.3" height="4.2" fill="#f8d800" stroke="#8a7400" stroke-width="0.65"/>
<text x="291.1" y="502.97" font-family="Liberation Sans" font-size="2.5" font-weight="bold" text-anchor="middle" fill="#2a2200" textLength="15.9" lengthAdjust="spacingAndGlyphs">Kunitz_BPTI</text>
<path d="M277.90 508.44Q287.37 506.39 290.00 506.39L292.10 506.39Q294.73 506.39 304.20 508.44Q294.73 510.49 292.10 510.49L290.00 510.49Q287.37 510.49 277.90 508.44Z" fill="#96d733" stroke="#467812" stroke-width="0.45"/>
<rect x="289.45" y="507.64" width="3.2" height="1.6" fill="#3d5a10" opacity="0.55"/>
<path d="M277.90 514.80Q287.37 512.75 290.00 512.75L292.10 512.75Q294.73 512.75 304.20 514.80Q294.73 516.85 292.10 516.85L290.00 516.85Q287.37 516.85 277.90 514.80Z" fill="#96d733" stroke="#467812" stroke-width="0.45"/>
<rect x="289.45" y="514.00" width="3.2" height="1.6" fill="#3d5a10" opacity="0.55"/>
<path d="M277.90 521.16Q287.37 519.11 290.00 519.11L292.10 519.11Q294.73 519.11 304.20 521.16Q294.73 523.21 292.10 523.21L290.00 523.21Q287.37 523.21 277.90 521.16Z" fill="#96d733" stroke="#467812" stroke-width="0.45"/>
<rect x="289.45" y="520.36" width="3.2" height="1.6" fill="#3d5a10" opacity="0.55"/>
<path d="M277.90 527.52Q287.37 525.47 290.00 525.47L292.10 525.47Q294.73 525.47 304.20 527.52Q294.73 529.57 292.10 529.57L290.00 529.57Q287.37 529.57 277.90 527.52Z" fill="#96d733" stroke="#467812" stroke-width="0.45"/>
<rect x="289.45" y="526.72" width="3.2" height="1.6" fill="#3d5a10" opacity="0.55"/>
<path d="M277.90 533.88Q287.37 531.83 290.00 531.83L292.10 531.83Q294.73 531.83 304.20 533.88Q294.73 535.93 292.10 535.93L290.00 535.93Q287.37 535.93 277.90 533.88Z" fill="#96d733" stroke="#467812" stroke-width="0.45"/>
<rect x="289.45" y="533.08" width="3.2" height="1.6" fill="#3d5a10" opacity="0.55"/>
<path d="M277.90 540.25Q287.37 538.20 290.00 538.20L292.10 538.20Q294.73 538.20 304.20 540.25Q294.73 542.30 292.10 542.30L290.00 542.30Q287.37 542.30 277.90 540.25Z" fill="#96d733" stroke="#467812" stroke-width="0.45"/>
<rect x="289.45" y="539.45" width="3.2" height="1.6" fill="#3d5a10" opacity="0.55"/>
</svg>
</body></html>
